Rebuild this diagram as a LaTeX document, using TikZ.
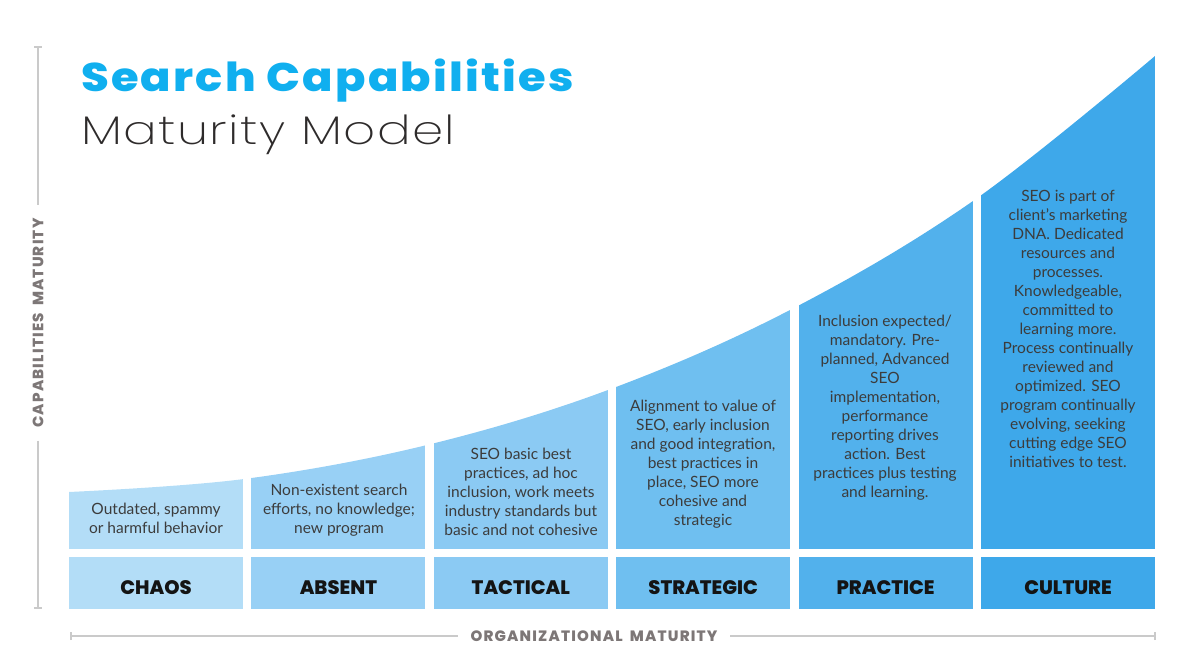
\documentclass[tikz,border=0pt]{standalone}
\usepackage{fontspec}
\setmainfont{Lato}
\newfontfamily\titlefont[FakeStretch=1.12, LetterSpace=5.5]{Poppins ExtraBold}
\newfontfamily\thinfont[FakeStretch=1.25, LetterSpace=3.5]{Poppins ExtraLight}
\newfontfamily\capsfont{Poppins ExtraBold}
\newfontfamily\axisfont[LetterSpace=8]{Poppins ExtraBold}
\usepackage{tikz}
\usetikzlibrary{positioning}
\definecolor{lvlA}{HTML}{B3DDF7}
\definecolor{lvlB}{HTML}{98D0F5}
\definecolor{lvlC}{HTML}{8BCAF3}
\definecolor{lvlD}{HTML}{6FBFF0}
\definecolor{lvlE}{HTML}{52B1EC}
\definecolor{lvlF}{HTML}{3EA8EA}
\definecolor{titleblue}{HTML}{10AFEF}
\definecolor{titlegray}{HTML}{2E2B2B}
\definecolor{axisgray}{HTML}{CACACA}
\definecolor{axistext}{HTML}{7D7777}
\definecolor{bodytext}{HTML}{3C3C3C}

\begin{document}
\begin{tikzpicture}[x=1pt, y=-1pt,
  desc/.style={font=\fontsize{15.5}{19}\selectfont, text=bodytext, align=center, inner sep=0},
  levelbox/.style={minimum width=174pt, minimum height=52pt, inner sep=0, outer sep=0},
  level/.style={font=\capsfont\fontsize{19.5}{20}\selectfont, text=black!92, inner sep=0},
  axis/.style={draw=axisgray, line width=1.2pt},
  axislabel/.style={font=\axisfont\fontsize{15}{15}\selectfont, text=axistext, inner sep=0, outer sep=13pt}]
\useasboundingbox (0,0) rectangle (1200,671);
%title
\node[anchor=base west, inner sep=0, text=titleblue, font=\titlefont\fontsize{40}{40}\selectfont] (title) at (81,91.5) {Search Capabilities};
\node[anchor=base west, inner sep=0, text=titlegray, font=\thinfont\fontsize{40}{40}\selectfont] (subtitle) at (81,145) {Maturity Model};
%upper parts under the curve
\begin{scope}
\clip (69,549) -- plot[smooth, tension=0.6] coordinates {(69,492) (244,479) (427,445) (608,390) (790,310) (973,201) (1155,56)} -- (1155,549) -- cycle;
\foreach \i/\c in {0/lvlA,1/lvlB,2/lvlC,3/lvlD,4/lvlE,5/lvlF}
  \fill[\c] ({69+182.4*\i},40) rectangle ++(174,509);
\end{scope}
%level boxes
\foreach \i/\c/\n/\t in {0/lvlA/chaos/CHAOS,1/lvlB/absent/ABSENT,2/lvlC/tactical/TACTICAL,3/lvlD/strategic/STRATEGIC,4/lvlE/practice/PRACTICE,5/lvlF/culture/CULTURE}{
  \node[levelbox, fill=\c] (\n) at ({156+182.4*\i},583) {};
  \node[level] (\n-label) at ([yshift=-5pt]\n.center) {\t};
}
%descriptions
\node[desc] (d1) at (156,518.5) {Outdated, spammy\\or harmful behavior};
\node[desc] (d2) at (339,510) {Non-existent search\\efforts, no knowledge;\\new program};
\node[desc] (d3) at (521,492) {SEO basic best\\practices, ad hoc\\inclusion, work meets\\industry standards but\\basic and not cohesive};
\node[desc] (d4) at (703,464) {Alignment to value of\\SEO, early inclusion\\and good integration,\\best practices in\\place, SEO more\\cohesive and\\strategic};
\node[desc] (d5) at (885,408) {Inclusion expected/\\mandatory. Pre-\\planned, Advanced\\SEO\\implementation,\\performance\\reporting drives\\action. Best\\practices plus testing\\and learning.};
\node[desc] (d6) at (1068,328.5) {SEO is part of\\client’s marketing\\DNA. Dedicated\\resources and\\processes.\\Knowledgeable,\\committed to\\learning more.\\Process continually\\reviewed and\\optimized. SEO\\program continually\\evolving, seeking\\cutting edge SEO\\initiatives to test.};
%axes
\coordinate (ytop) at (38,47);
\coordinate (ybot) at (38,608);
\coordinate (xleft) at (71,636);
\coordinate (xright) at (1155,636);
\node[axislabel, rotate=90] (ylabel) at (38,323) {CAPABILITIES\hspace{3pt} MATURITY};
\node[axislabel] (xlabel) at (594,636) {ORGANIZATIONAL\hspace{3pt} MATURITY};
\draw[axis] (ytop) -- (ylabel.east);
\draw[axis] (ylabel.west) -- (ybot);
\draw[axis] (xleft) -- (xlabel.west);
\draw[axis] (xlabel.east) -- (xright);
\draw[axis] ([xshift=-4pt]ytop) -- ([xshift=4pt]ytop);
\draw[axis] ([xshift=-4pt]ybot) -- ([xshift=4pt]ybot);
\draw[axis] ([yshift=-4pt]xleft) -- ([yshift=4pt]xleft);
\draw[axis] ([yshift=-4pt]xright) -- ([yshift=4pt]xright);
\end{tikzpicture}
\end{document}
